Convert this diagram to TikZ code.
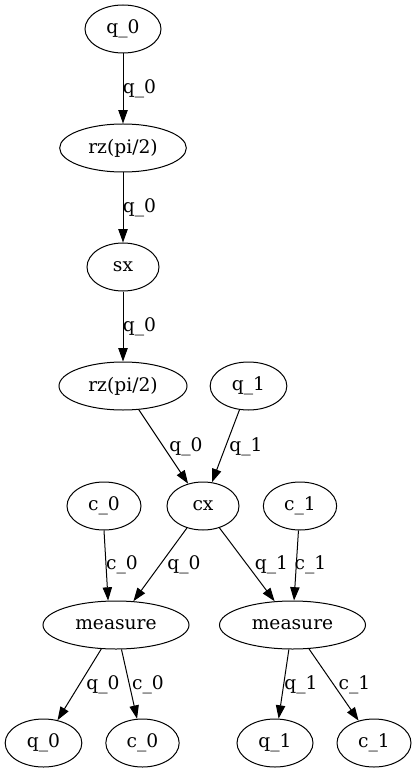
\documentclass[tikz,border=0pt]{standalone}
\usepackage{fontspec}
\setmainfont{DejaVu Serif}
\usetikzlibrary{shapes.geometric,arrows.meta}

\begin{document}
\begin{tikzpicture}[x=0.75pt, y=-0.75pt,
  every node/.style={font=\fontsize{14pt}{16pt}\selectfont},
  op/.style={draw, ellipse, line width=0.75pt, inner sep=0pt, minimum height=36pt, minimum width=#1},
  op/.default=54pt,
  wire/.style={-{Triangle[length=10pt,width=7pt]}, line width=0.75pt},
  lbl/.style={inner sep=0pt}]
\useasboundingbox (0,0) rectangle (416,773);
% qubit 0 chain
\node[op=57pt] (q0) at (123,29) {q\_0};
\node[op=95pt] (rz1) at (123,148) {rz(pi/2)};
\node[op] (sx) at (123,267) {sx};
\node[op=96pt] (rz2) at (123,386) {rz(pi/2)};
\node[op=57.5pt] (q1) at (248.5,386) {q\_1};
\draw[wire] (q0) -- (rz1);
\node[lbl] (l1) at (139.5,89) {q\_0};
\draw[wire] (rz1) -- (sx);
\node[lbl] (l2) at (139.5,208) {q\_0};
\draw[wire] (sx) -- (rz2);
\node[lbl] (l3) at (139.5,327) {q\_0};
% cx
\node[op] (cx) at (203,506) {cx};
\node[op=55.5pt] (c0) at (104,506) {c\_0};
\node[op=55pt] (c1) at (300,506) {c\_1};
\draw[wire] (rz2) -- (cx);
\node[lbl] (l4) at (186,447) {q\_0};
\draw[wire] (q1) -- (cx);
\node[lbl] (l5) at (246,447) {q\_1};
% measurements
\node[op=109.5pt] (mL) at (116,625) {measure};
\node[op=109.5pt] (mR) at (292.5,625) {measure};
\draw[wire] (c0.south) -- (mL.108);
\node[lbl] (l6) at (122,565) {c\_0};
\draw[wire] (cx) -- (mL);
\node[lbl] (l7) at (184,565) {q\_0};
\draw[wire] (cx) -- (mR);
\node[lbl] (l8) at (271.5,565) {q\_1};
\draw[wire] (c1) -- (mR);
\node[lbl] (l9) at (310.5,565) {c\_1};
% outputs
\node[op=57.5pt] (oq0) at (43.5,743) {q\_0};
\node[op=55pt] (oc0) at (142.5,743) {c\_0};
\node[op=57pt] (oq1) at (275,743) {q\_1};
\node[op=55.5pt] (oc1) at (374,743) {c\_1};
\draw[wire] (mL) -- (oq0);
\node[lbl] (l10) at (103,685) {q\_0};
\draw[wire] (mL) -- (oc0);
\node[lbl] (l11) at (148,685) {c\_0};
\draw[wire] (mR) -- (oq1);
\node[lbl] (l12) at (301,685) {q\_1};
\draw[wire] (mR) -- (oc1);
\node[lbl] (l13) at (354.5,685) {c\_1};
\end{tikzpicture}
\end{document}
